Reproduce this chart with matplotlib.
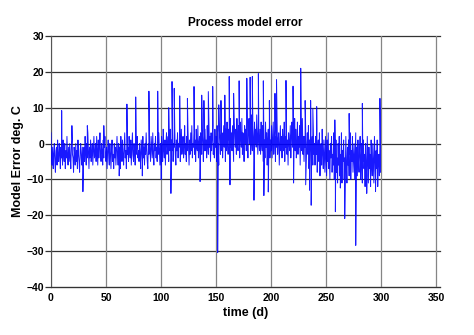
import numpy as np
import matplotlib
matplotlib.use("Agg")
import matplotlib.pyplot as plt

base_error = [
    3, -4, -6, -1, -7, -3, 0, -5, -8, -2, -1, -6, 1, -4, -5, 0, -3, -7, -1, -4,
    -2, -6, 1, -3, -5, 0, -7, -2, -4, 2, -3, -6, -1, -5, 0, -4, -7, -1, 1, -3,
    -4, -8, -1, -3, -6, 0, -5, -2, -7, 1, -3, -5, -8, -2, 0, -4, -6, -1, -7, -3,
    -1, -5, 2, -3, -6, 0, -4, 3, -2, -7, -1, -4, 1, -5, -3, 0, -6, -2, 2, -4,
    -3, 0, -5, 2, -2, -6, 1, -4, -1, 3, -3, -5, 0, -2, -6, 1, -4, -1, 2, -3,
    -5, -1, -7, -2, 1, -4, -6, 0, -3, -7, -2, 1, -5, -3, -7, 0, -4, -1, -6, -2,
    2, -3, -6, 0, -4, -1, -7, 2, -2, -5, 1, -3, -6, -1, 3, -4, -2, -7, 0, -3,
    -1, -5, 2, -2, -4, 1, -6, -1, 3, -3, -5, 0, -2, -6, 1, -3, -1, 2, -4, -2,
    -5, 0, -3, -7, 1, -2, -5, 2, -4, -1, -6, 0, -3, 3, -2, -5, -7, 0, -3, 1,
    -2, -5, 2, -1, -4, 3, -3, -6, 0, -2, 2, -4, -1, -5, 1, -3, 3, -2, -6, 0,
    -3, 2, -1, -5, 4, -2, -4, 1, -6, 0, 3, -3, -1, 2, -5, 0, -2, 4, -4, 1,
    -2, 3, -5, 0, -1, 4, -3, -6, 1, -2, 3, -4, 0, -1, 2, -5, -2, 4, -3, 0,
    2, -4, -1, 5, -3, 0, -5, 2, -2, 4, -1, -6, 1, -3, 3, -2, 5, -4, 0, -1,
    3, -3, 1, -5, 4, -1, -2, 5, -4, 0, 2, -6, 3, -1, -3, 4, 0, -5, 2, -2,
    4, -2, 1, -4, 5, 0, -3, 6, -1, 2, -5, 3, -2, 1, 5, -3, 0, -4, 4, -1,
    2, -5, 5, -1, 0, -6, 4, 1, -3, 6, -2, 3, -4, 0, 5, -1, 2, -5, 4, -2,
    6, 0, -3, 4, 1, -4, 7, -1, 3, -2, 5, 0, -5, 6, 2, -1, 4, -3, 7, 1,
    -2, 5, 0, -4, 6, 2, -1, 7, -3, 3, 1, -5, 5, 0, 4, -2, 6, 1, -4, 3,
    7, 0, 3, -3, 8, 1, -2, 5, 2, -4, 6, 0, 4, -1, 8, 2, -3, 5, 1, -2,
    4, -3, 6, 0, -2, 5, -5, 2, 1, -4, 6, -1, 3, -6, 0, 4, -2, 5, -4, 1,
    -2, 5, -4, 1, 6, -3, 0, 4, -5, 2, -1, 6, -3, 1, 3, -6, 0, 5, -2, 2,
    -4, 4, 0, -2, 6, -5, 2, -1, 5, -3, 1, -6, 3, 0, -2, 5, -4, 2, 6, -1,
    3, -5, 1, 7, -2, 4, -4, 0, 6, -3, 2, -1, 5, -6, 3, 1, -2, 7, -3, 2,
    -5, 2, -1, 4, -6, 0, 3, -3, 5, -7, 1, -2, 4, -5, -1, 2, -6, 3, -3, 0,
    -6, 2, -3, 4, -8, -1, 1, -5, 3, -9, -2, 0, -6, 4, -3, -7, 1, -4, -8, 2,
    -3, -9, 1, -5, 3, -7, -2, -10, 0, -4, 2, -8, -3, -6, 3, -10, -1, -5, 1, -8,
    -4, -11, 0, -6, 2, -9, -3, -7, 3, -11, -2, -5, 1, -10, -4, -8, 2, -6, -11, -1,
    -6, 1, -9, -3, 3, -10, -2, -5, 2, -8, -4, 0, -10, -3, 3, -7, -1, -9, 1, -5,
    -8, -2, 2, -10, -4, 0, -11, -5, 1, -7, -3, -12, 0, -6, -9, 2, -4, -11, -1, -7,
    -3, -12, 1, -6, -9, 0, -5, -11, 2, -4, -10, -2, -7, 1, -12, -5, -3, -9, 0, -2,
]
base_step = 0.5

# Isolated spikes (day, error)
spike_day = [9.7, 19, 29, 33, 48, 62, 69, 77, 83, 89, 97, 100.2, 107, 109, 110, 112,
             117, 124, 130, 135.5, 137, 139, 143, 147, 151.5, 152.5, 154.5, 158,
             162, 162.7, 166, 171, 178, 181, 183, 184.5, 188.5, 193, 193.5, 197.5,
             198.5, 203.6, 205, 213.6, 220, 220.5, 227, 231, 231.5, 235, 236,
             236.5, 238, 241.5, 258, 258.5, 263, 267, 271, 277, 283, 287, 295,
             299, 299.5]
spike_val = [9.2, 5, -13.4, 5, 5, -9, 11, 13, -9, 14.6, 14.6, -10, 10, -13.9, 17.3, 15.4,
             13.3, 12.6, 15.9, -10.6, 13.5, 12, 14.5, 15.9, -30.4, 10.8, 12, 13.5,
             18.7, -11.5, 14, 17.5, 18.2, 18.5, 18.7, -15.8, 19.5, 17.5, -14.5, -13.5,
             12, 14, 17.8, 17.6, 16, -11, 21, 12, -11.5, -13, 12,
             -17.2, 9.8, 10.3, 6.6, -19, -12.4, -20.9, 8.4, -28.4, 11.2, -13.9, -13.4,
             12.6, -8]

title = "Process model error"
xlabel = "time (d)"
ylabel = "Model Error deg. C"
xticks = [0, 50, 100, 150, 200, 250, 300, 350]
yticks = [-40, -30, -20, -10, 0, 10, 20, 30]

# Merge base series and spikes in time order
t_base = np.arange(len(base_error)) * base_step
t_all = np.concatenate([t_base, np.array(spike_day, float)])
v_all = np.concatenate([np.array(base_error, float), np.array(spike_val, float)])
order = np.argsort(t_all, kind="stable")
t_all, v_all = t_all[order], v_all[order]

plt.rcParams['font.family'] = ['Liberation Sans', 'DejaVu Sans']

fig = plt.figure(figsize=(4.74, 3.35), dpi=100)
ax = fig.add_axes([51 / 474, 1 - 287 / 335, (440 - 51) / 474, (287 - 36) / 335])

for yv in yticks:
    ax.axhline(yv, color="#333333", lw=0.9, zorder=1, clip_on=False)
for xv in xticks:
    ax.axvline(xv, color="#858585", lw=0.9, zorder=1)

ax.plot(t_all, v_all, color="#0000ff", lw=0.7, alpha=0.9, zorder=3)

ax.set_xlim(0, 353.6)
ax.set_ylim(-40, 30)
ax.set_xticks(xticks)
ax.set_yticks(yticks)
ax.tick_params(axis="y", direction="out", length=4, width=0.9, color="#333333",
               labelsize=7.5, pad=1)
ax.tick_params(axis="x", length=0, labelsize=7.5, pad=4)
for lab in ax.get_xticklabels() + ax.get_yticklabels():
    lab.set_fontweight("bold")
for s in ["top", "right"]:
    ax.spines[s].set_visible(False)
ax.spines["left"].set_color("#555555")
ax.spines["bottom"].set_color("#333333")

ax.set_title(title, fontsize=8.5, fontweight="bold", pad=7)
ax.set_xlabel(xlabel, fontsize=9, fontweight="bold", labelpad=3)
ax.set_ylabel(ylabel, fontsize=9, fontweight="bold", labelpad=2)

fig.savefig("out.png", dpi=100)
